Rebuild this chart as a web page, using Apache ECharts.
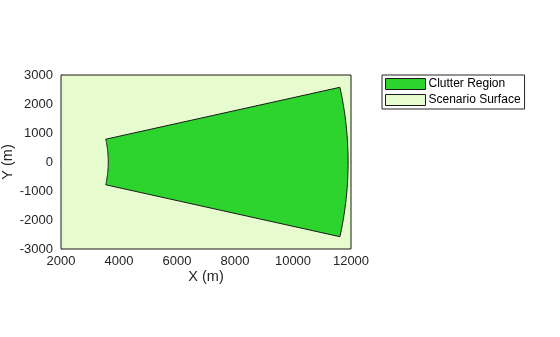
<!DOCTYPE html>
<html><head><meta charset="utf-8">
<script src="https://cdn.jsdelivr.net/npm/echarts@6/dist/echarts.min.js"></script>
<style>html,body{margin:0;padding:0;background:#fff}#c{width:560px;height:337px}</style>
</head><body><div id="c"></div>
<script>
// Data
const xTicks = [2000, 4000, 6000, 8000, 10000, 12000];
const yTicks = [-3000, -2000, -1000, 0, 1000, 2000, 3000];
const surfaceX = [2000, 12000, 12000, 2000];
const surfaceY = [-3000, -3000, 3000, 3000];
const clutterRadius = [3630, 11900];      // inner, outer range (m)
const clutterAzimuth = [-12.5, 12.5];     // azimuth span (deg)
const seriesNames = ['Clutter Region', 'Scenario Surface'];

const chart = echarts.init(document.getElementById('c'), null, {renderer: 'canvas'});
const FONT = 'Liberation Sans, Arial, sans-serif';
const TXT = '#262626';

function surfaceRender(params, api) {
  const pts = surfaceX.map((x, i) => api.coord([x, surfaceY[i]]));
  return {type: 'polygon', shape: {points: pts},
    style: {fill: '#e6fccf', stroke: '#1a1a1a', lineWidth: 1}};
}
function clutterRender(params, api) {
  const [r0, r1] = clutterRadius;
  const [a0, a1] = clutterAzimuth;
  const pts = [];
  const n = 40;
  for (let i = 0; i <= n; i++) {
    const a = (a0 + (a1 - a0) * i / n) * Math.PI / 180;
    pts.push(api.coord([r1 * Math.cos(a), r1 * Math.sin(a)]));
  }
  for (let i = n; i >= 0; i--) {
    const a = (a0 + (a1 - a0) * i / n) * Math.PI / 180;
    pts.push(api.coord([r0 * Math.cos(a), r0 * Math.sin(a)]));
  }
  return {type: 'polygon', shape: {points: pts},
    style: {fill: '#2ed42e', stroke: '#1a1a1a', lineWidth: 1}};
}

chart.setOption({
  animation: false,
  textStyle: {fontFamily: FONT},
  grid: {left: 61, top: 75, width: 290, height: 174, show: false, containLabel: false, outerBoundsMode: 'none'},
  xAxis: {
    type: 'value', min: xTicks[0], max: xTicks[xTicks.length - 1], interval: 2000,
    name: 'X (m)', nameLocation: 'middle', nameGap: 20, nameMoveOverlap: false,
    nameTextStyle: {fontSize: 14.5, color: TXT, fontFamily: FONT},
    axisLine: {show: true, lineStyle: {color: '#808080', width: 1}},
    axisTick: {show: false}, splitLine: {show: false},
    axisLabel: {fontSize: 13, color: TXT, margin: 6, fontFamily: FONT, formatter: v => String(v)}
  },
  yAxis: {
    type: 'value', min: yTicks[0], max: yTicks[yTicks.length - 1], interval: 1000,
    name: 'Y (m)', nameLocation: 'middle', nameGap: 46, nameRotate: 90, nameMoveOverlap: false,
    nameTextStyle: {fontSize: 14.5, color: TXT, fontFamily: FONT},
    axisLine: {show: true, lineStyle: {color: '#808080', width: 1}},
    axisTick: {show: false}, splitLine: {show: false},
    axisLabel: {fontSize: 13, color: TXT, margin: 8, fontFamily: FONT, formatter: v => String(v)}
  },
  legend: {
    orient: 'vertical', left: 382, top: 75,
    padding: [3, 4, 3, 3], itemGap: 4, itemWidth: 40, itemHeight: 11,
    backgroundColor: '#fff', borderColor: '#262626', borderWidth: 1, borderRadius: 0,
    icon: 'rect',
    textStyle: {fontSize: 12, color: '#000', fontFamily: FONT, padding: [0, 0, 0, -2]},
    data: [
      {name: seriesNames[0], itemStyle: {color: '#2ed42e', borderColor: '#1a1a1a', borderWidth: 1}},
      {name: seriesNames[1], itemStyle: {color: '#e6fccf', borderColor: '#1a1a1a', borderWidth: 1}}
    ]
  },
  series: [
    {name: seriesNames[1], type: 'custom', renderItem: surfaceRender, data: [0], z: 1,
      itemStyle: {color: '#e6fccf'}, clip: false},
    {name: seriesNames[0], type: 'custom', renderItem: clutterRender, data: [0], z: 2,
      itemStyle: {color: '#2ed42e'}, clip: false}
  ]
});
</script></body></html>
